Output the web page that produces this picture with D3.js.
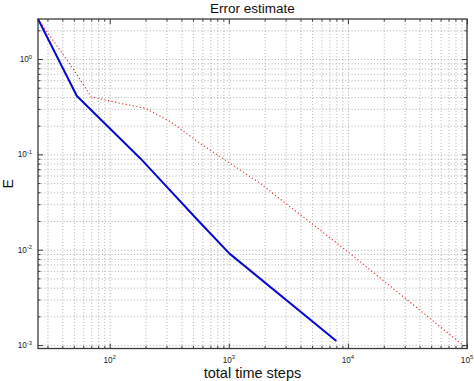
<!DOCTYPE html>
<html>
<head>
<meta charset="utf-8">
<script src="https://cdn.jsdelivr.net/npm/d3@7"></script>
<style>
  html, body { margin: 0; padding: 0; background: #fff; }
  svg { display: block; font-family: "Liberation Sans", Arial, Helvetica, sans-serif; }
</style>
</head>
<body>
<svg id="chart" width="474" height="381"></svg>
<script>
// ---- data ----
const blueSteps = [25, 53, 181, 547, 1014, 8000];
const blueError = [2.63, 0.409, 0.0907, 0.0205, 0.0091, 0.00110];

const redSteps = [25, 29, 50, 70, 85, 123, 200, 324, 576, 1028, 1834, 3270, 5830, 10400, 100000];
const redError = [2.63, 2.02, 0.77, 0.40, 0.38, 0.343, 0.304, 0.22, 0.13, 0.0805, 0.0497, 0.0282, 0.0161, 0.00914, 0.00092];

const xMajorTicks = [1e2, 1e3, 1e4, 1e5];
const xMajorExp = ["2", "3", "4", "5"];
const yMajorTicks = [1e0, 1e-1, 1e-2, 1e-3];
const yMajorExp = ["0", "-1", "-2", "-3"];
const xDomain = [25, 1e5];
const yDomain = [0.00092, 2.63];

const titleText = "Error estimate";
const xLabelText = "total time steps";
const yLabelText = "E";

// ---- layout ----
const W = 474, H = 381;
const margin = { left: 38, top: 19, right: 7, bottom: 32.5 };
const iw = W - margin.left - margin.right;
const ih = H - margin.top - margin.bottom;

const svg = d3.select("#chart");
const g = svg.append("g").attr("transform", `translate(${margin.left},${margin.top})`);

const x = d3.scaleLog().domain(xDomain).range([0, iw]);
const y = d3.scaleLog().domain(yDomain).range([ih, 0]);

const xAll = x.ticks().filter(v => v >= xDomain[0] && v <= xDomain[1]);
const yAll = y.ticks().filter(v => v >= yDomain[0] && v <= yDomain[1]);
const xMinor = xAll.filter(v => !xMajorTicks.includes(v));
const yMinor = yAll.filter(v => !yMajorTicks.some(t => Math.abs(t - v) / t < 1e-9));

// ---- grid ----
const gridColor = "#9a9a9a";
const gx = g.append("g").attr("transform", `translate(0,${ih})`)
  .call(d3.axisBottom(x).tickValues(xAll).tickSize(-ih).tickFormat(""));
gx.select(".domain").remove();
gx.selectAll("line").attr("stroke", gridColor).attr("stroke-width", 0.8).attr("stroke-dasharray", "1,2.2");

const gy = g.append("g")
  .call(d3.axisLeft(y).tickValues(yAll).tickSize(-iw).tickFormat(""));
gy.select(".domain").remove();
gy.selectAll("line").attr("stroke", gridColor).attr("stroke-width", 0.8).attr("stroke-dasharray", "1,2.2");

// ---- lines ----
const blueData = blueSteps.map((s, i) => [s, blueError[i]]);
const redData = redSteps.map((s, i) => [s, redError[i]]);
const line = d3.line().x(d => x(d[0])).y(d => y(d[1]));

g.append("path").datum(redData).attr("d", line)
  .attr("fill", "none").attr("stroke", "#e8282a").attr("stroke-width", 1.1)
  .attr("stroke-dasharray", "1.2,2.4");

g.append("path").datum(blueData).attr("d", line)
  .attr("fill", "none").attr("stroke", "#0808d0").attr("stroke-width", 2)
  .attr("stroke-linejoin", "round");

// ---- inward ticks on all four sides ----
const axisColor = "#3a3a3a";
function styleAxis(sel) {
  sel.select(".domain").remove();
  sel.selectAll("line").attr("stroke", axisColor).attr("stroke-width", 1);
}
// bottom
g.append("g").attr("transform", `translate(0,${ih})`)
  .call(d3.axisBottom(x).tickValues(xMinor).tickSize(-2.5).tickFormat("")).call(styleAxis);
g.append("g").attr("transform", `translate(0,${ih})`)
  .call(d3.axisBottom(x).tickValues(xMajorTicks).tickSize(-5).tickFormat("")).call(styleAxis);
// top
g.append("g")
  .call(d3.axisTop(x).tickValues(xMinor).tickSize(-2.5).tickFormat("")).call(styleAxis);
g.append("g")
  .call(d3.axisTop(x).tickValues(xMajorTicks).tickSize(-5).tickFormat("")).call(styleAxis);
// left
g.append("g")
  .call(d3.axisLeft(y).tickValues(yMinor).tickSize(-2.5).tickFormat("")).call(styleAxis);
g.append("g")
  .call(d3.axisLeft(y).tickValues(yMajorTicks).tickSize(-5).tickFormat("")).call(styleAxis);
// right
g.append("g").attr("transform", `translate(${iw},0)`)
  .call(d3.axisRight(y).tickValues(yMinor).tickSize(-2.5).tickFormat("")).call(styleAxis);
g.append("g").attr("transform", `translate(${iw},0)`)
  .call(d3.axisRight(y).tickValues(yMajorTicks).tickSize(-5).tickFormat("")).call(styleAxis);

// box
g.append("rect").attr("x", 0).attr("y", 0).attr("width", iw).attr("height", ih)
  .attr("fill", "none").attr("stroke", axisColor).attr("stroke-width", 1.3);

// ---- tick labels (10 with superscript exponent) ----
xMajorTicks.forEach((v, i) => {
  const t = g.append("text")
    .attr("x", x(v)).attr("y", ih + 14)
    .attr("text-anchor", "middle")
    .attr("font-size", 8.2).attr("fill", "#222");
  t.append("tspan").text("10");
  t.append("tspan").attr("dy", -3.5).attr("font-size", 5.8).text(xMajorExp[i]);
});
yMajorTicks.forEach((v, i) => {
  const t = g.append("text")
    .attr("x", -6).attr("y", y(v) + 3)
    .attr("text-anchor", "end")
    .attr("font-size", 8.2).attr("fill", "#222");
  t.append("tspan").text("10");
  t.append("tspan").attr("dy", -3.5).attr("font-size", 5.8).text(yMajorExp[i]);
});

// ---- title and axis labels ----
svg.append("text")
  .attr("x", margin.left + iw / 2).attr("y", 13)
  .attr("text-anchor", "middle").attr("font-size", 13.5).attr("fill", "#111")
  .text(titleText);

svg.append("text")
  .attr("x", margin.left + iw / 2).attr("y", 378)
  .attr("text-anchor", "middle").attr("font-size", 14.5).attr("fill", "#111")
  .text(xLabelText);

svg.append("text")
  .attr("transform", `translate(13,${margin.top + ih / 2}) rotate(-90)`)
  .attr("text-anchor", "middle").attr("font-size", 14).attr("fill", "#111")
  .text(yLabelText);
</script>
</body>
</html>
